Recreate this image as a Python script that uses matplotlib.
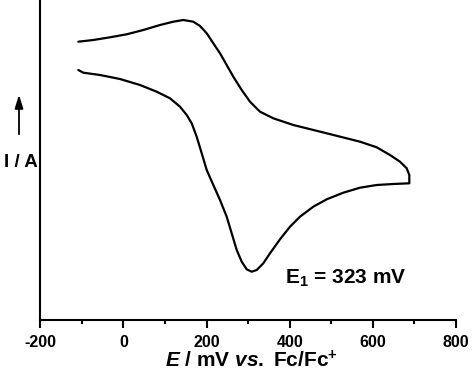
import numpy as np
import matplotlib.pyplot as plt
from matplotlib.patches import FancyArrowPatch

plt.rcParams['font.family'] = ['Liberation Sans', 'DejaVu Sans']
plt.rcParams['axes.unicode_minus'] = False
plt.rcParams['mathtext.fontset'] = 'custom'
plt.rcParams['mathtext.rm'] = 'Liberation Sans:bold'
plt.rcParams['mathtext.it'] = 'Liberation Sans:bold:italic'
plt.rcParams['mathtext.bf'] = 'Liberation Sans:bold'

# forward branch (upper trace), potential in mV, current in arbitrary units
E_fwd = [-108.6, -72.5, -32.3, 7.8, 47.8, 88.0, 119.9, 144.0, 168.1, 184.2,
         200.3, 216.2, 232.3, 248.4, 264.3, 284.5, 304.5, 328.5, 360.5, 408.6,
         489.0, 569.1, 609.2, 641.2, 665.3, 681.4, 687.7, 687.7]
I_fwd = [27.83, 28.0, 28.27, 28.57, 29.0, 29.5, 29.83, 30.0, 29.83, 29.4,
         28.67, 27.67, 26.67, 25.5, 24.33, 23.0, 21.83, 20.83, 20.17, 19.5,
         18.67, 17.83, 17.27, 16.5, 15.83, 15.17, 14.5, 13.67]

# reverse branch (lower trace)
E_rev = [649.2, 609.2, 569.1, 528.9, 489.0, 456.7, 424.7, 400.7, 376.6, 352.6,
         336.4, 320.6, 308.5, 296.5, 284.5, 272.5, 260.4, 248.4, 232.3, 216.2,
         200.3, 188.3, 176.2, 164.2, 152.2, 136.1, 112.0, 80.0, 39.8, -8.3,
         -56.4, -96.6, -108.6]
I_rev = [13.6, 13.5, 13.23, 12.73, 12.07, 11.33, 10.33, 9.33, 8.07, 6.67,
         5.67, 5.0, 4.83, 5.07, 5.83, 7.0, 8.67, 10.33, 12.0, 13.5,
         15.0, 16.67, 18.33, 19.67, 20.5, 21.33, 22.17, 22.83, 23.5, 24.1,
         24.5, 24.73, 25.0]

xticks = [-200, 0, 200, 400, 600, 800]

fig = plt.figure(figsize=(4.74, 3.79), dpi=100)
ax = fig.add_axes([40.3 / 474, 59 / 379, (456 - 40.3) / 474, 320 / 379])

ax.plot(E_fwd + E_rev, I_fwd + I_rev, color='black', linewidth=1.6,
        solid_joinstyle='round', solid_capstyle='round')

ax.set_xlim(-200, 800)
ax.set_ylim(0, 32)
ax.set_xticks(xticks)
ax.set_xticks(np.arange(-100, 800, 200), minor=True)
ax.set_yticks([])
ax.spines['top'].set_visible(False)
ax.spines['right'].set_visible(False)
for s in ('left', 'bottom'):
    ax.spines[s].set_linewidth(1.5)
ax.tick_params(axis='x', which='major', length=6, width=1.5, direction='out',
               labelsize=11.5, pad=4.5)
ax.tick_params(axis='x', which='minor', length=3, width=1.5, direction='out')
for lab in ax.get_xticklabels():
    lab.set_fontweight('bold')

fig.text(251.5 / 474, 1 - 361 / 379, r'$E$ / mV $vs.$ Fc/Fc$^{+}$',
         ha='center', va='center', fontsize=15, fontweight='bold')

fig.text(38 / 474, 1 - 163 / 379, 'I / A', ha='right', va='center',
         fontsize=13.5, fontweight='bold')
fig.patches.append(FancyArrowPatch(
    (19 / 474, 1 - 137 / 379), (19 / 474, 1 - 92 / 379),
    transform=fig.transFigure, arrowstyle='-|>,head_length=0.8,head_width=0.25',
    mutation_scale=10, color='black', linewidth=1.3))

fig.text(285 / 474, 1 - 278 / 379, r'E$_{1}$ = 323 mV', ha='left', va='center',
         fontsize=15, fontweight='bold')

fig.savefig('out.png', dpi=100)
